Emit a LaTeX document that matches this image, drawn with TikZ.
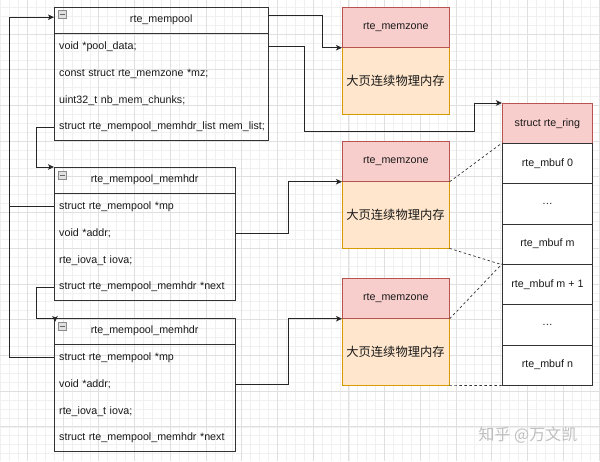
\documentclass[tikz,border=0pt]{standalone}
\usepackage{fontspec}
\setmainfont{Liberation Sans}
\newfontfamily\cjk{Noto Sans CJK SC}
\usetikzlibrary{positioning,arrows.meta}

\definecolor{zonefill}{HTML}{F8CECC}
\definecolor{zoneline}{HTML}{B85450}
\definecolor{memfill}{HTML}{FFE6CC}
\definecolor{memline}{HTML}{D79B00}

\tikzset{
  gridminor/.style={draw=black!6, line width=0.4pt},
  gridmajor/.style={draw=black!12, line width=0.5pt},
  boxline/.style={draw=black!80, line width=0.8pt},
  structhead/.style={anchor=north west, minimum width=#1, minimum height=26pt, inner sep=0pt},
  memberrow/.style={anchor=north west, minimum height=26.8pt, inner xsep=5pt, inner ysep=0pt, text width=#1, align=left},
  togglebox/.style={anchor=north west, draw=black!45, fill=black!12, minimum size=8pt, inner sep=0pt,
    path picture={\draw[black!60, line width=0.6pt] ([xshift=1.5pt]path picture bounding box.west) -- ([xshift=-1.5pt]path picture bounding box.east);}},
  zonehead/.style={anchor=north west, draw=zoneline, fill=zonefill, line width=0.7pt, minimum width=107pt, minimum height=40pt, inner sep=0pt},
  zonebody/.style={draw=memline, fill=memfill, line width=0.7pt, minimum width=107pt, minimum height=67pt, inner sep=0pt, font=\cjk\fontsize{12.3}{14}\selectfont},
  ringhead/.style={anchor=north west, draw=zoneline, fill=zonefill, line width=0.8pt, minimum width=90pt, minimum height=40pt, inner sep=0pt},
  ringcell/.style={anchor=north west, draw=black!80, fill=white, line width=0.8pt, minimum width=90pt, minimum height=40.3pt, inner sep=0pt},
  link/.style={draw=black!85, line width=0.8pt, -{Stealth[length=6pt,width=5.5pt,inset=1.5pt]}},
  wire/.style={draw=black!85, line width=0.8pt},
  memlink/.style={draw=black!80, line width=0.7pt, dash pattern=on 2.5pt off 2.5pt},
  watermark/.style={text=black!25, font=\cjk\fontsize{16}{18}\selectfont, inner sep=0pt}
}

\begin{document}
\begin{tikzpicture}[x=1pt, y=-1pt, font=\fontsize{10.7}{12}\selectfont, text=black!90]
  \useasboundingbox (0,0) rectangle (600,461);
  \fill[white] (0,0) rectangle (600,461);

  % background grid
  \begin{scope}
    \clip (0,0) rectangle (600,461);
    \foreach \k in {0,...,67} \draw[gridminor] ({0.45+8.93*\k},0) -- ++(0,461);
    \foreach \k in {0,...,51} \draw[gridminor] (0,{7+8.93*\k}) -- ++(600,0);
    \foreach \k in {0,...,16} \draw[gridmajor] ({27.24+35.72*\k},0) -- ++(0,461);
    \foreach \k in {0,...,12} \draw[gridmajor] (0,{33.8+35.72*\k}) -- ++(600,0);
  \end{scope}

  % rte_mempool
  \node[structhead=214pt] (pool) at (54,7) {rte\_mempool};
  \foreach [count=\i] \txt in {void *pool\_data;, const struct rte\_memzone *mz;, uint32\_t nb\_mem\_chunks;, struct rte\_mempool\_memhdr\_list mem\_list;}
    \node[memberrow=204pt] (pool\i) at (54,{33+26.8*(\i-1)}) {\mbox{\txt}};
  \draw[boxline] (pool.north west) rectangle (pool4.south east);
  \draw[boxline] (pool.south west) -- (pool.south east);
  \node[togglebox] (pooltog) at ([xshift=4pt,yshift=-3pt]pool.north west) {};

  % rte_mempool_memhdr
  \foreach \hdr/\top in {hdrA/167, hdrB/318} {
    \node[structhead=181pt] (\hdr) at (54,\top) {rte\_mempool\_memhdr};
    \foreach [count=\i] \txt in {struct rte\_mempool *mp, void *addr;, rte\_iova\_t iova;, struct rte\_mempool\_memhdr *next}
      \node[memberrow=171pt] (\hdr\i) at (54,{\top+26+26.8*(\i-1)}) {\mbox{\txt}};
    \draw[boxline] (\hdr.north west) rectangle (\hdr4.south east);
    \draw[boxline] (\hdr.south west) -- (\hdr.south east);
    \node[togglebox] (\hdr tog) at ([xshift=4pt,yshift=-4pt]\hdr.north west) {};
  }

  % rte_memzone
  \foreach \z/\top in {1/7, 2/141, 3/278} {
    \node[zonebody] (body\z) at (395.5,{\top+73.5}) {大页连续物理内存};
    \node[zonehead] (head\z) at (342,\top) {rte\_memzone};
  }

  % rte_ring
  \node[ringhead] (ring) at (502,103) {struct rte\_ring};
  \foreach [count=\i] \txt in {rte\_mbuf 0, \dots, rte\_mbuf m, rte\_mbuf m + 1, \dots, rte\_mbuf n}
    \node[ringcell] (ring\i) at (502,{143+40.3*(\i-1)}) {\txt};

  % links
  \draw[link] ([yshift=5pt]pool.east) -- ++(54,0) |- (head1.south west);
  \draw[link] (pool1.east) -- ++(36,0) -- ++(0,85) -- ++(170,0) |- (ring.north west);
  \draw[link] (pool4.west) -- ++(-18,0) |- (hdrA.north west);
  \draw[link] (hdrA4.west) -- ++(-18,0) |- ([xshift=1pt]hdrB.north west) -- ([xshift=1pt,yshift=-4pt]hdrB.north west);
  \draw[wire] (hdrA1.west) -- ++(-45,0);
  \draw[link] (hdrB1.west) -- ++(-45,0) |- ([yshift=3pt]pool.west);
  \draw[link] (hdrA2.east) -- ++(53,0) |- (head2.south west);
  \draw[link] (hdrB2.east) -- ++(53,0) |- (head3.south west);

  \draw[memlink] (head2.south east) -- (ring1.north west);
  \draw[memlink] (body2.south east) -- (ring3.south west);
  \draw[memlink] (head3.south east) -- (ring4.north west);
  \draw[memlink] (body3.south east) -- (ring6.south west);

  \node[watermark] (mark) at (528,435) {知乎 @万文凯};
\end{tikzpicture}
\end{document}
